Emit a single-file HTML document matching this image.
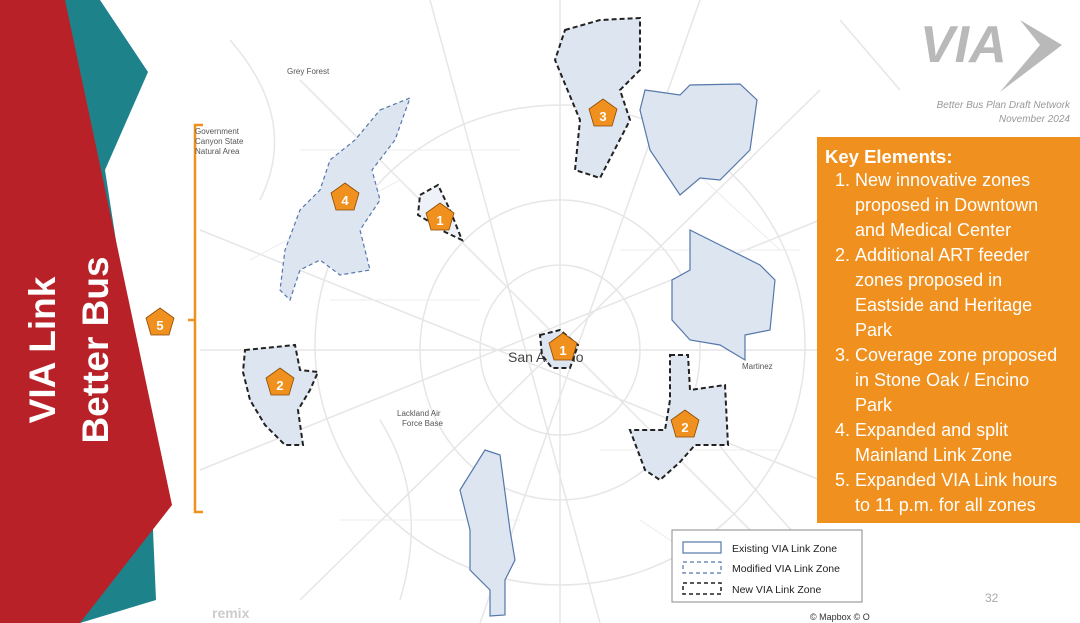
<!DOCTYPE html>
<html><head><meta charset="utf-8"><style>
body{margin:0;width:1080px;height:623px;overflow:hidden;background:#fff;font-family:"Liberation Sans",sans-serif;}
svg{position:absolute;left:0;top:0}
.key{position:absolute;left:817px;top:137px;width:263px;height:386px;background:#f0901e;color:#fff;font-size:18px;line-height:25px;box-sizing:border-box;padding-right:14px}
.key h3{margin:0;padding:9px 0 0 8px;font-size:18.5px;font-weight:bold;line-height:22px}
.key ol{margin:0;padding:0 0 0 38px}
</style></head><body>
<svg width="1080" height="623" viewBox="0 0 1080 623">
<g fill="none" stroke="#e6e6e8" stroke-width="1.5">
<ellipse cx="560" cy="350" rx="140" ry="150"/>
<ellipse cx="560" cy="345" rx="245" ry="240"/>
<ellipse cx="560" cy="350" rx="80" ry="85"/>
<path d="M560 0 V623 M200 350 H820 M300 80 L820 600 M820 90 L300 600 M430 0 L600 623 M700 0 L480 623 M200 230 L820 480 M200 470 L820 220"/>
<path d="M230 40 Q300 120 260 200 M840 20 L900 90 M380 420 Q430 500 400 600 M700 420 Q760 500 820 560"/>
</g>
<g stroke="#ececee" stroke-width="1" fill="none">
<path d="M300 150 H520 M330 300 H480 M620 250 H800 M600 450 H780 M340 520 H520 M250 260 L400 180 M650 130 L780 250 M640 520 L760 600"/>
</g>
<polygon points="0,0 100,0 148,72 105,170 150,460 156,600 80,623 0,623" fill="#1e828a"/>
<polygon points="0,0 65,0 172,505 80,623 0,623" fill="#b82128"/>
<text transform="translate(55,350) rotate(-90)" text-anchor="middle" fill="#fff" font-size="37" font-weight="bold">VIA Link</text>
<text transform="translate(108,350) rotate(-90)" text-anchor="middle" fill="#fff" font-size="37" font-weight="bold">Better Bus</text>
<path d="M203 125 H195 V512 H203 M195 320 H188" stroke="#f0901e" stroke-width="2.5" fill="none"/>
<g font-size="8" fill="#555"><text x="287" y="74">Grey Forest</text><text x="195" y="134">Government</text><text x="195" y="144">Canyon State</text><text x="195" y="154">Natural Area</text><text x="397" y="416">Lackland Air</text><text x="402" y="426">Force Base</text><text x="742" y="369">Martinez</text></g>
<text x="508" y="362" font-size="14" fill="#444">San Antonio</text>
<g fill="#dde5f1" stroke="#5577aa" stroke-width="1.2">
<polygon points="645,90 680,95 690,85 740,84 757,100 750,150 720,180 700,178 680,195 650,150 640,110"/>
<polygon points="690,230 720,245 760,265 775,280 770,330 745,335 745,360 720,345 690,340 672,320 672,280 690,270"/>
<polygon points="485,450 500,455 510,530 515,560 505,580 505,615 490,616 490,590 470,570 470,530 460,490"/>
</g>
<polygon points="380,110 410,98 395,140 372,170 380,200 360,230 370,270 340,275 320,260 300,270 290,300 280,290 285,250 300,210 320,190 330,160 355,140" fill="#dde5f1" stroke="#5577aa" stroke-width="1.2" stroke-dasharray="4,3"/>
<g fill="#dde5f1" stroke="#222" stroke-width="2" stroke-dasharray="5,3">
<polygon points="565,30 600,20 640,18 640,70 620,90 630,120 600,178 575,170 580,120 555,60"/>
<polygon points="420,195 438,185 450,210 462,240 445,232 430,222 418,215" fill="#eef2f8"/>
<polygon points="245,350 295,345 300,370 318,372 310,390 298,410 303,445 285,445 265,425 250,400 243,372"/>
<polygon points="540,335 560,330 578,345 570,368 552,368 542,355"/>
<polygon points="670,355 688,355 690,390 725,385 728,445 695,445 680,462 660,480 645,470 630,430 665,430 670,400"/>
</g>
<g fill="#f0901e" stroke="#8a4a00" stroke-width="0.8">
<polygon points="603,99 617,109 612,126 594,126 589,109"/>
<polygon points="345,183 359,193 354,210 336,210 331,193"/>
<polygon points="440,203 454,213 449,230 431,230 426,213"/>
<polygon points="563,333 577,343 572,360 554,360 549,343"/>
<polygon points="280,368 294,378 289,395 271,395 266,378"/>
<polygon points="685,410 699,420 694,437 676,437 671,420"/>
<polygon points="160,308 174,318 169,335 151,335 146,318"/>
</g>
<g fill="#fff" font-size="13" font-weight="bold" text-anchor="middle">
<text x="603" y="121">3</text><text x="345" y="205">4</text><text x="440" y="225">1</text><text x="563" y="355">1</text><text x="280" y="390">2</text><text x="685" y="432">2</text><text x="160" y="330">5</text>
</g>
<text x="920" y="62" font-size="52" font-style="italic" font-weight="bold" fill="#b9b9b9">VIA</text>
<polygon points="1020,20 1062,45 1000,92 1040,45" fill="#b9b9b9"/>
<text x="1070" y="108" text-anchor="end" font-size="10" font-style="italic" fill="#999">Better Bus Plan Draft Network</text>
<text x="1070" y="122" text-anchor="end" font-size="10" font-style="italic" fill="#999">November 2024</text>
<rect x="672" y="530" width="190" height="72" fill="#fff" stroke="#888"/>
<rect x="683" y="542" width="38" height="11" fill="none" stroke="#5577aa" stroke-width="1.2"/>
<rect x="683" y="562" width="38" height="11" fill="none" stroke="#5577aa" stroke-width="1.2" stroke-dasharray="4,3"/>
<rect x="683" y="583" width="38" height="11" fill="none" stroke="#222" stroke-width="1.5" stroke-dasharray="4,3"/>
<g font-size="10.5" fill="#222"><text x="732" y="552">Existing VIA Link Zone</text><text x="732" y="572">Modified VIA Link Zone</text><text x="732" y="593">New VIA Link Zone</text></g>
<text x="985" y="602" font-size="12" fill="#aaa">32</text>
<text x="810" y="620" font-size="9" fill="#333">© Mapbox © O</text>
<text x="212" y="618" font-size="14" font-weight="bold" fill="#ccc">remix</text>
</svg>
<div class="key"><h3>Key Elements:</h3><ol>
<li>New innovative zones proposed in Downtown and Medical Center</li>
<li>Additional ART feeder zones proposed in Eastside and Heritage Park</li>
<li>Coverage zone proposed in Stone Oak / Encino Park</li>
<li>Expanded and split Mainland Link Zone</li>
<li>Expanded VIA Link hours to 11 p.m. for all zones</li></ol></div>
</body></html>
